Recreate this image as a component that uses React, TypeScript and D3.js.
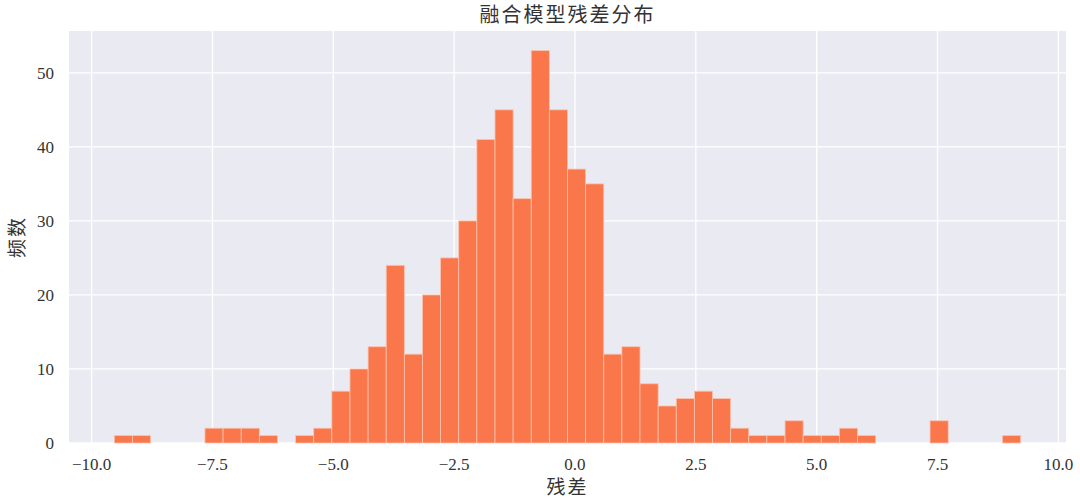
import React, { useRef, useEffect } from "react";
import * as d3 from "d3";

// histogram: 50 bins between the min and max residual
const binStart = -9.53;
const binEnd = 9.22;
const counts = [
  1, 1, 0, 0, 0, 2, 2, 2, 1, 0,
  1, 2, 7, 10, 13, 24, 12, 20, 25, 30,
  41, 45, 33, 53, 45, 37, 35, 12, 13, 8,
  5, 6, 7, 6, 2, 1, 1, 3, 1, 1,
  2, 1, 0, 0, 0, 3, 0, 0, 0, 1,
];
const xTicks = [-10, -7.5, -5, -2.5, 0, 2.5, 5, 7.5, 10];
const yTicks = [0, 10, 20, 30, 40, 50];

const title = "融合模型残差分布";
const xLabel = "残差";
const yLabel = "频数";

const fmt = (v: number) => d3.format(".1f")(v).replace("-", "\u2212");

const App = () => {
  const svgRef = useRef<SVGSVGElement>(null);

  useEffect(() => {
    if (!svgRef.current) return;
    const W = 1080;
    const H = 498;
    const margin = { top: 31, right: 14, bottom: 55, left: 69 };
    const width = W - margin.left - margin.right;
    const height = H - margin.top - margin.bottom;

    const binW = (binEnd - binStart) / counts.length;
    const bins = counts.map((c, i) => ({
      x0: binStart + i * binW,
      x1: binStart + (i + 1) * binW,
      c,
    }));

    const pad = (binEnd - binStart) * 0.05;
    const xScale = d3
      .scaleLinear()
      .domain([binStart - pad, binEnd + pad])
      .range([0, width]);
    const yMax = (d3.max(counts) ?? 0) * 1.05;
    const yScale = d3.scaleLinear().domain([0, yMax]).range([height, 0]);

    d3.select(svgRef.current).selectAll("*").remove();
    const root = d3.select(svgRef.current);

    const svg = root
      .append("g")
      .attr("transform", `translate(${margin.left},${margin.top})`);

    svg
      .append("rect")
      .attr("width", width)
      .attr("height", height)
      .attr("fill", "#EAEAF2");

    // grid
    svg
      .selectAll(".gx")
      .data(xTicks)
      .join("line")
      .attr("x1", (d) => xScale(d))
      .attr("x2", (d) => xScale(d))
      .attr("y1", 0)
      .attr("y2", height)
      .attr("stroke", "white")
      .attr("stroke-width", 1.3);
    svg
      .selectAll(".gy")
      .data(yTicks)
      .join("line")
      .attr("x1", 0)
      .attr("x2", width)
      .attr("y1", (d) => yScale(d))
      .attr("y2", (d) => yScale(d))
      .attr("stroke", "white")
      .attr("stroke-width", 1.3);

    // bars
    svg
      .selectAll(".bar")
      .data(bins.filter((b) => b.c > 0))
      .join("rect")
      .attr("x", (d) => xScale(d.x0))
      .attr("y", (d) => yScale(d.c))
      .attr("width", (d) => xScale(d.x1) - xScale(d.x0))
      .attr("height", (d) => yScale(0) - yScale(d.c))
      .attr("fill", "#F9774A")
      .attr("stroke", "#FBC3AE")
      .attr("stroke-width", 0.8);

    // tick labels
    const tickFont = "'Liberation Serif', 'DejaVu Serif', serif";
    svg
      .selectAll(".xt")
      .data(xTicks)
      .join("text")
      .attr("x", (d) => xScale(d))
      .attr("y", height + 27)
      .attr("text-anchor", "middle")
      .style("font-family", tickFont)
      .style("font-size", "17px")
      .style("fill", "#333")
      .text((d) => fmt(d));
    svg
      .selectAll(".yt")
      .data(yTicks)
      .join("text")
      .attr("x", -15)
      .attr("y", (d) => yScale(d) + 6)
      .attr("text-anchor", "end")
      .style("font-family", tickFont)
      .style("font-size", "17px")
      .style("fill", "#333")
      .text((d) => d);

    const cjk = "'Noto Sans CJK SC', sans-serif";
    root
      .append("text")
      .attr("x", margin.left + width / 2)
      .attr("y", 22)
      .attr("text-anchor", "middle")
      .style("font-family", cjk)
      .style("font-size", "20px")
      .style("letter-spacing", "2px")
      .style("fill", "#333")
      .text(title);

    svg
      .append("text")
      .attr("x", width / 2)
      .attr("y", height + 51)
      .attr("text-anchor", "middle")
      .style("font-family", cjk)
      .style("font-size", "19px")
      .style("letter-spacing", "2px")
      .style("fill", "#333")
      .text(xLabel);

    svg
      .append("text")
      .attr("transform", "rotate(-90)")
      .attr("x", -height / 2)
      .attr("y", -45)
      .attr("text-anchor", "middle")
      .style("font-family", cjk)
      .style("font-size", "19px")
      .style("letter-spacing", "2px")
      .style("fill", "#333")
      .text(yLabel);
  }, []);

  return (
    <svg
      ref={svgRef}
      width={1080}
      height={498}
      style={{ position: "absolute", left: 0, top: 0, background: "white" }}
    ></svg>
  );
};

export default App;
